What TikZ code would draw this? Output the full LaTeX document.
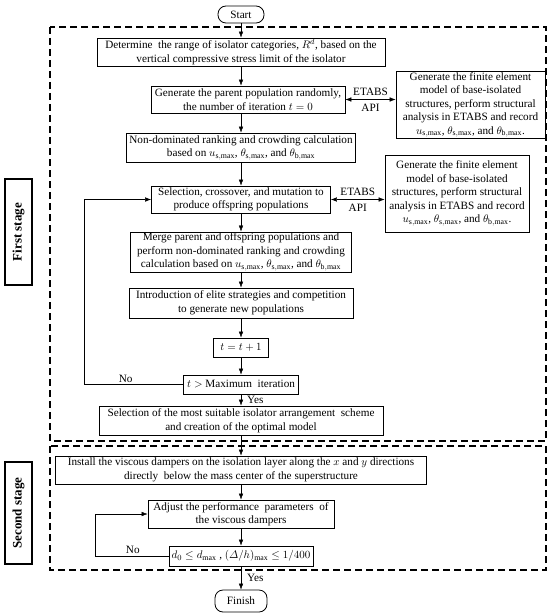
\documentclass[tikz,border=0pt]{standalone}
\usepackage{amsmath}
\usepackage{fontspec}
\setmainfont{Liberation Serif}
\usetikzlibrary{arrows.meta}
\newcommand{\respmax}{$u_{\mathrm{s},\max}$, $\theta_{\mathrm{s},\max}$, and $\theta_{\mathrm{b},\max}$}
\begin{document}
\begin{tikzpicture}[x=1pt,y=-1pt,>={Latex[length=6pt,width=4.5pt]},
    box/.style={draw,line width=.8pt,align=center,inner sep=1pt,font=\fontsize{11.2}{13.5}\selectfont},
    term/.style={box,rounded corners=8pt},
    stagebox/.style={draw,line width=1.5pt,dash pattern=on 7pt off 4pt},
    tagbox/.style={draw,line width=1.5pt,rotate=90,minimum height=27pt,font=\fontsize{13}{15}\selectfont\bfseries},
    lab/.style={font=\fontsize{11.2}{13.5}\selectfont,inner sep=2pt}]
\useasboundingbox(0,0)rectangle(550,615);
\draw[stagebox](50,27)rectangle(546,441);
\draw[stagebox](50,446)rectangle(546,570);
\node[tagbox,minimum width=106pt](first)at(18.5,232){First stage};
\node[tagbox,minimum width=102pt](second)at(18.5,513){Second stage};
\node[term,minimum width=46pt,minimum height=17pt](start)at(241,14.5){Start};
\node[box,minimum width=288pt,minimum height=28pt](b1)at(241,52){Determine\ \ the range of isolator categories, $R^d$, based on the\\vertical compressive stress limit of the isolator};
\node[box,minimum width=194pt,minimum height=27pt](b2)at(248,99.5){Generate the parent population randomly,\\the number of iteration $t=0$};
\node[box,minimum width=149pt,minimum height=66pt](r1)at(470.5,105){Generate the finite element\\model of base-isolated\\structures, perform structural\\analysis in ETABS and record\\\respmax.};
\node[box,minimum width=229pt,minimum height=29pt](b3)at(241,147.5){Non-dominated ranking and crowding calculation\\based on \respmax};
\node[box,minimum width=179pt,minimum height=27pt](b4)at(241,199.5){Selection, crossover, and mutation to\\produce offspring populations};
\node[box,minimum width=144pt,minimum height=77pt](r2)at(457,193.5){Generate the finite element\\model of base-isolated\\structures, perform structural\\analysis in ETABS and record\\\respmax.};
\node[box,minimum width=221pt,minimum height=40pt](b5)at(241,252){Merge parent and offspring populations and\\perform non-dominated ranking and crowding\\calculation based on \respmax};
\node[box,minimum width=224pt,minimum height=30pt](b6)at(241,303){Introduction of elite strategies and competition\\to generate new populations};
\node[box,minimum width=55pt,minimum height=19pt](b7)at(241,347.5){$t=t+1$};
\node[box,minimum width=115pt,minimum height=19pt](b8)at(241,384.5){$t>$ Maximum\ \ iteration};
\node[box,minimum width=284pt,minimum height=29pt](b9)at(241,420.5){Selection of the most suitable isolator arrangement\ \ scheme\\and creation of the optimal model};
\node[box,minimum width=371pt,minimum height=28pt](b10)at(241,470){Install the viscous dampers on the isolation layer along the $x$ and $y$ directions\\directly\ \ below the mass center of the superstructure};
\node[box,minimum width=186pt,minimum height=28pt](b11)at(241,514){Adjust the performance\ \ parameters\ \ of\\the viscous dampers};
\node[box,minimum width=144pt,minimum height=20pt](b12)at(241,556){$d_0\le d_{\max}$ , $(\varDelta/h)_{\max}\le 1/400$};
\node[term,minimum width=52pt,minimum height=22pt](finish)at(241,601){Finish};
\draw[->](start)--(b1);
\draw[->](b1)--(b1|-b2.north);
\draw[->](b3|-b2.south)--(b3);
\draw[->](b3)--(b4);
\draw[->](b4)--(b5);
\draw[->](b5)--(b6);
\draw[->](b6)--(b7);
\draw[->](b7)--(b8);
\draw[->](b8)--node[lab,right=4pt](yes1){Yes}(b9);
\draw[->](b9)--(b10);
\draw[->](b10)--(b11);
\draw[->](b11)--(b12);
\draw[->](b12)--node[lab,right=4pt](yes2){Yes}(finish);
\draw[<->](b2.east)--node[lab,above=2pt](etabs1){ETABS}node[lab,below=2pt](api1){API}(b2.east-|r1.west);
\draw[<->](b4.east)--node[lab,above=2pt](etabs2){ETABS}node[lab,below=2pt](api2){API}(b4.east-|r2.west);
\draw[->](b8.west)--node[lab,above,pos=.58](no1){No}++(-99,0)|-(b4.west);
\draw[->](b12.west)--node[lab,above,pos=.49](no2){No}++(-73,0)|-(b11.west);
\end{tikzpicture}
\end{document}
